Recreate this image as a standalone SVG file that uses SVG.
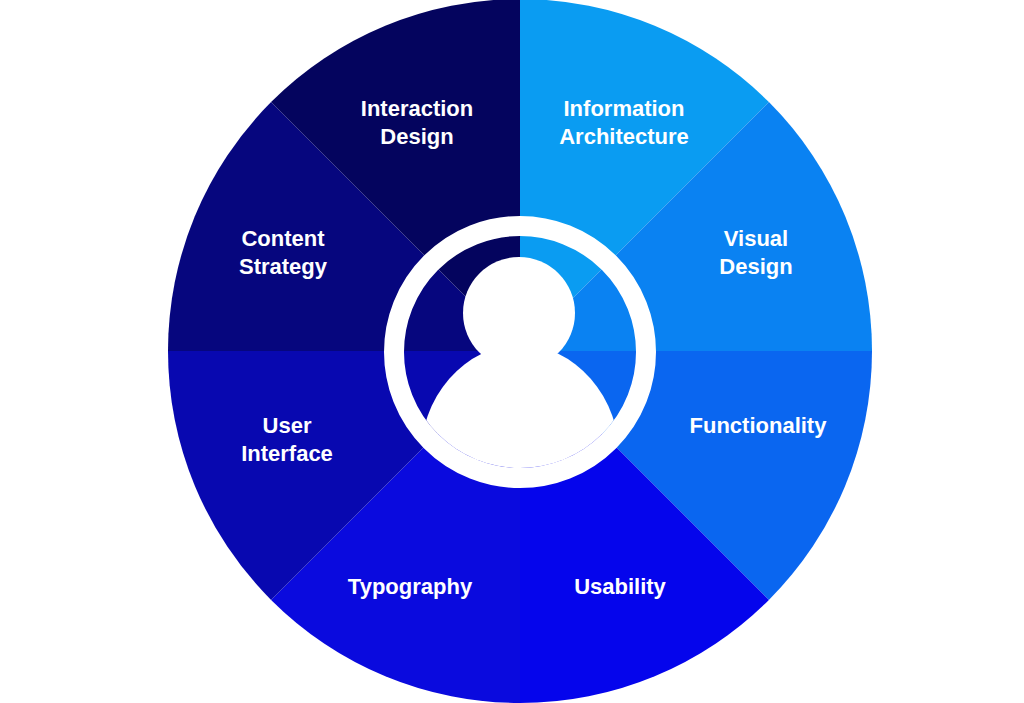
<svg xmlns="http://www.w3.org/2000/svg" width="1024" height="703" viewBox="0 0 1024 703">
<style>
text{font-family:"Liberation Sans",Arial,sans-serif;font-weight:bold;font-size:22px;fill:#fff;text-anchor:middle}
</style>
<defs><clipPath id="ic"><circle cx="520" cy="352" r="116"/></clipPath></defs>
<rect width="1024" height="703" fill="#fff"/>
<g id="wheel">
<path id="s1" d="M520 351 L520 -1 A352 352 0 0 1 768.9 102.1Z" fill="#0a9cf2"/>
<path id="s2" d="M520 351 L768.9 102.1 A352 352 0 0 1 872 351Z" fill="#0a82f2"/>
<path id="s3" d="M520 351 L872 351 A352 352 0 0 1 768.9 599.9Z" fill="#0a66f0"/>
<path id="s4" d="M520 351 L768.9 599.9 A352 352 0 0 1 520 703Z" fill="#0505ec"/>
<path id="s5" d="M520 351 L520 703 A352 352 0 0 1 271.1 599.9Z" fill="#0a0ade"/>
<path id="s6" d="M520 351 L271.1 599.9 A352 352 0 0 1 168 351Z" fill="#0808b0"/>
<path id="s7" d="M520 351 L168 351 A352 352 0 0 1 271.1 102.1Z" fill="#06067e"/>
<path id="s8" d="M520 351 L271.1 102.1 A352 352 0 0 1 520 -1Z" fill="#04045e"/>
</g>
<g id="user">
<circle cx="520" cy="352" r="126" fill="none" stroke="#fff" stroke-width="20"/>
<circle cx="519" cy="313" r="56" fill="#fff"/>
<ellipse cx="520" cy="460" rx="100" ry="115" fill="#fff" clip-path="url(#ic)"/>
</g>
<g id="labels">
<text x="417" y="116">Interaction</text><text x="417" y="144">Design</text>
<text x="624" y="116">Information</text><text x="624" y="144">Architecture</text>
<text x="283" y="246">Content</text><text x="283" y="274">Strategy</text>
<text x="756" y="246">Visual</text><text x="756" y="274">Design</text>
<text x="287" y="433">User</text><text x="287" y="461">Interface</text>
<text x="758" y="433">Functionality</text>
<text x="410" y="594">Typography</text>
<text x="620" y="594">Usability</text>
</g>
</svg>
